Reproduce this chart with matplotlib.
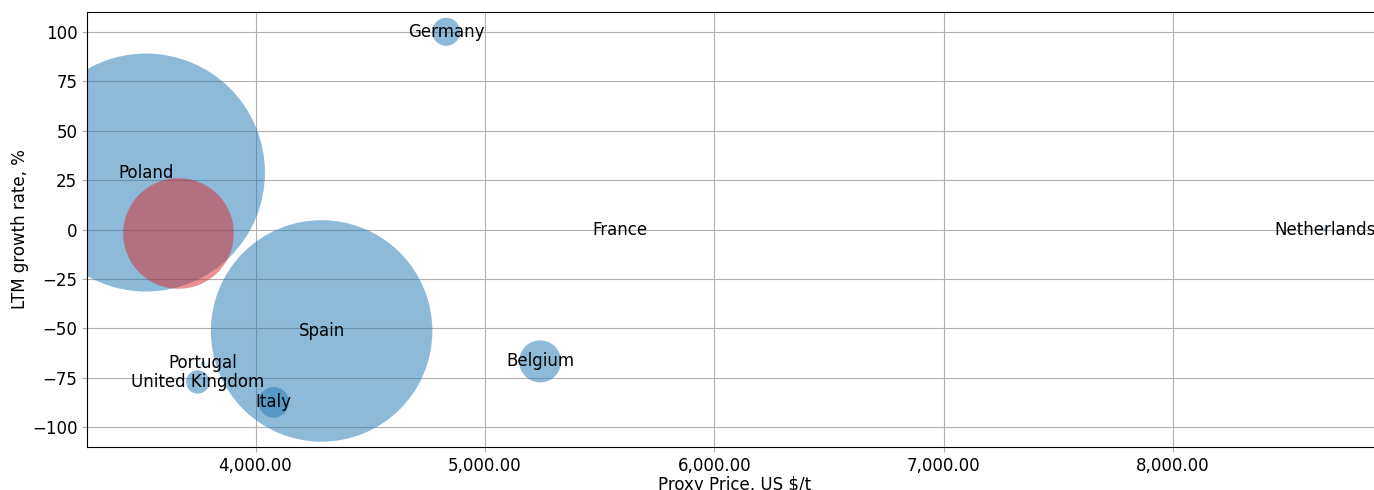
import matplotlib
matplotlib.use("Agg")
import matplotlib.pyplot as plt
from matplotlib.ticker import FuncFormatter

# countries (blue bubbles)
countries = ["Poland", "Spain", "Germany", "Belgium", "Italy",
             "United Kingdom", "Portugal", "France", "Netherlands"]
price = [3522, 4288, 4831, 5241, 4079, 3748, 3771, 5590, 8662]
growth = [28.8, -51.3, 100, -66.7, -87.4, -77.1, -67.7, 0, 0]
volume = [29370, 25440, 406, 914, 485, 284, 10, 0, 5]

# highlighted bubble (red, no label)
hl_price = [3662]
hl_growth = [-2]
hl_volume = [6340]

plt.rcParams["font.size"] = 12

fig = plt.figure(figsize=(13.74, 4.9), dpi=100)
ax = fig.add_axes([87/1374, 43/490, 1295/1374, 435/490])

ax.scatter(price, growth, s=volume, color="tab:blue", alpha=0.5,
           linewidths=0, zorder=2)
ax.scatter(hl_price, hl_growth, s=hl_volume, color="tab:red", alpha=0.5,
           linewidths=0, zorder=3)

for name, x, y in zip(countries, price, growth):
    ax.text(x, y, name, ha="center", va="center", fontsize=12, zorder=4)

ax.set_xlim(3265, 8912)
ax.set_ylim(-110, 110)
ax.set_yticks([-100, -75, -50, -25, 0, 25, 50, 75, 100])
ax.xaxis.set_major_formatter(FuncFormatter(lambda v, p: f"{v:,.2f}"))
ax.grid(True, color="#b0b0b0", linewidth=0.8, zorder=0)
ax.set_axisbelow(True)
ax.tick_params(color="#b0b0b0")

ax.set_xlabel(r"Proxy Price, US \$/t", labelpad=1)
ax.set_ylabel("LTM growth rate, %", labelpad=2)

fig.savefig("out.png", dpi=100)
